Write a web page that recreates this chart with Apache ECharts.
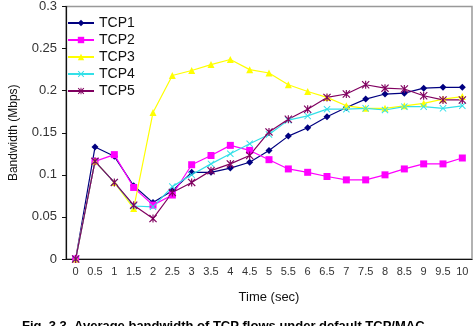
<!DOCTYPE html>
<html>
<head>
<meta charset="utf-8">
<script src="https://cdn.jsdelivr.net/npm/echarts@6/dist/echarts.min.js"></script>
<style>
  html, body { margin: 0; padding: 0; background: #fff; }
  #chart { width: 474px; height: 326px; }
</style>
</head>
<body>
<div id="chart"></div>
<script>
// Time axis (seconds)
const times = ['0', '0.5', '1', '1.5', '2', '2.5', '3', '3.5', '4', '4.5', '5',
  '5.5', '6', '6.5', '7', '7.5', '8', '8.5', '9', '9.5', '10'];

// Bandwidth per flow (Mbps)
const tcp1 = [0, 0.133, 0.122, 0.087, 0.067, 0.081, 0.103, 0.103, 0.108, 0.115, 0.129,
  0.146, 0.156, 0.169, 0.180, 0.190, 0.196, 0.197, 0.203, 0.204, 0.204];
const tcp2 = [0, 0.116, 0.124, 0.085, 0.064, 0.076, 0.112, 0.123, 0.135, 0.129, 0.118,
  0.107, 0.103, 0.098, 0.094, 0.094, 0.100, 0.107, 0.113, 0.113, 0.120];
const tcp3 = [0, 0.116, 0.091, 0.060, 0.174, 0.218, 0.224, 0.231, 0.237, 0.225, 0.221,
  0.207, 0.199, 0.192, 0.182, 0.179, 0.179, 0.182, 0.185, 0.190, 0.193];
const tcp4 = [0, 0.116, 0.091, 0.063, 0.062, 0.086, 0.100, 0.113, 0.125, 0.137, 0.148,
  0.165, 0.170, 0.178, 0.178, 0.179, 0.177, 0.181, 0.181, 0.179, 0.182];
const tcp5 = [0, 0.116, 0.091, 0.064, 0.048, 0.079, 0.091, 0.105, 0.113, 0.123, 0.151,
  0.166, 0.178, 0.192, 0.196, 0.207, 0.203, 0.202, 0.194, 0.189, 0.189];

const seriesNames = ['TCP1', 'TCP2', 'TCP3', 'TCP4', 'TCP5'];
const seriesData = [tcp1, tcp2, tcp3, tcp4, tcp5];

// Marker shapes
const crossPath = 'path://M0,1L1,0L5,4L9,0L10,1L6,5L10,9L9,10L5,6L1,10L0,9L4,5Z';
const starPath = 'path://M0,1L1,0L5,4L9,0L10,1L6,5L10,9L9,10L5,6L1,10L0,9L4,5Z' +
  'M4.3,0L5.7,0L5.7,10L4.3,10Z';

const styles = [
  { color: '#000080', symbol: 'diamond', size: 7 },
  { color: '#ff00ff', symbol: 'rect', size: 7 },
  { color: '#ffff00', symbol: 'triangle', size: 7 },
  { color: '#33e0e8', symbol: crossPath, size: 7 },
  { color: '#800060', symbol: starPath, size: 8 }
];

const chart = echarts.init(document.getElementById('chart'), null, { renderer: 'canvas' });

const font = 'Liberation Sans, Arial, sans-serif';

chart.setOption({
  animation: false,
  backgroundColor: '#fff',
  grid: {
    left: 58, top: 4, right: 2, bottom: 67,
    show: true, borderColor: '#999', borderWidth: 1.5, backgroundColor: '#fff'
  },
  legend: {
    orient: 'vertical',
    left: 62, top: 11,
    itemWidth: 26, itemHeight: 8, itemGap: 3,
    textStyle: { fontFamily: font, fontSize: 14, color: '#111' },
    data: seriesNames
  },
  xAxis: {
    type: 'category',
    data: times,
    boundaryGap: true,
    name: 'Time (sec)',
    nameLocation: 'middle',
    nameGap: 32,
    nameTextStyle: { fontFamily: font, fontSize: 13, color: '#111' },
    axisLine: { lineStyle: { color: '#111', width: 1.2 } },
    axisTick: { inside: true, interval: 1, length: 5, lineStyle: { color: '#111' } },
    axisLabel: { fontFamily: font, fontSize: 11, color: '#333', margin: 7, interval: 0 }
  },
  yAxis: {
    type: 'value',
    min: 0, max: 0.3, interval: 0.05,
    name: 'Bandwidth (Mbps)',
    nameLocation: 'middle',
    nameGap: 46,
    nameTextStyle: { fontFamily: font, fontSize: 12, color: '#111' },
    splitLine: { show: false },
    axisLine: { show: true, lineStyle: { color: '#111', width: 1.2 } },
    axisTick: { show: true, length: 4, lineStyle: { color: '#111' } },
    axisLabel: { fontFamily: font, fontSize: 13, color: '#333', margin: 9 }
  },
  graphic: [{
    type: 'text',
    left: 22, top: 320,
    style: {
      text: 'Fig. 3.3. Average bandwidth of TCP flows under default TCP/MAC',
      font: 'bold 13px ' + font,
      fill: '#000'
    }
  }],
  series: seriesNames.map((name, i) => ({
    name: name,
    type: 'line',
    data: seriesData[i],
    symbol: styles[i].symbol,
    symbolSize: styles[i].size,
    showAllSymbol: true,
    lineStyle: { color: styles[i].color, width: 1.2 },
    itemStyle: { color: styles[i].color },
    emphasis: { disabled: true }
  }))
});
</script>
</body>
</html>
